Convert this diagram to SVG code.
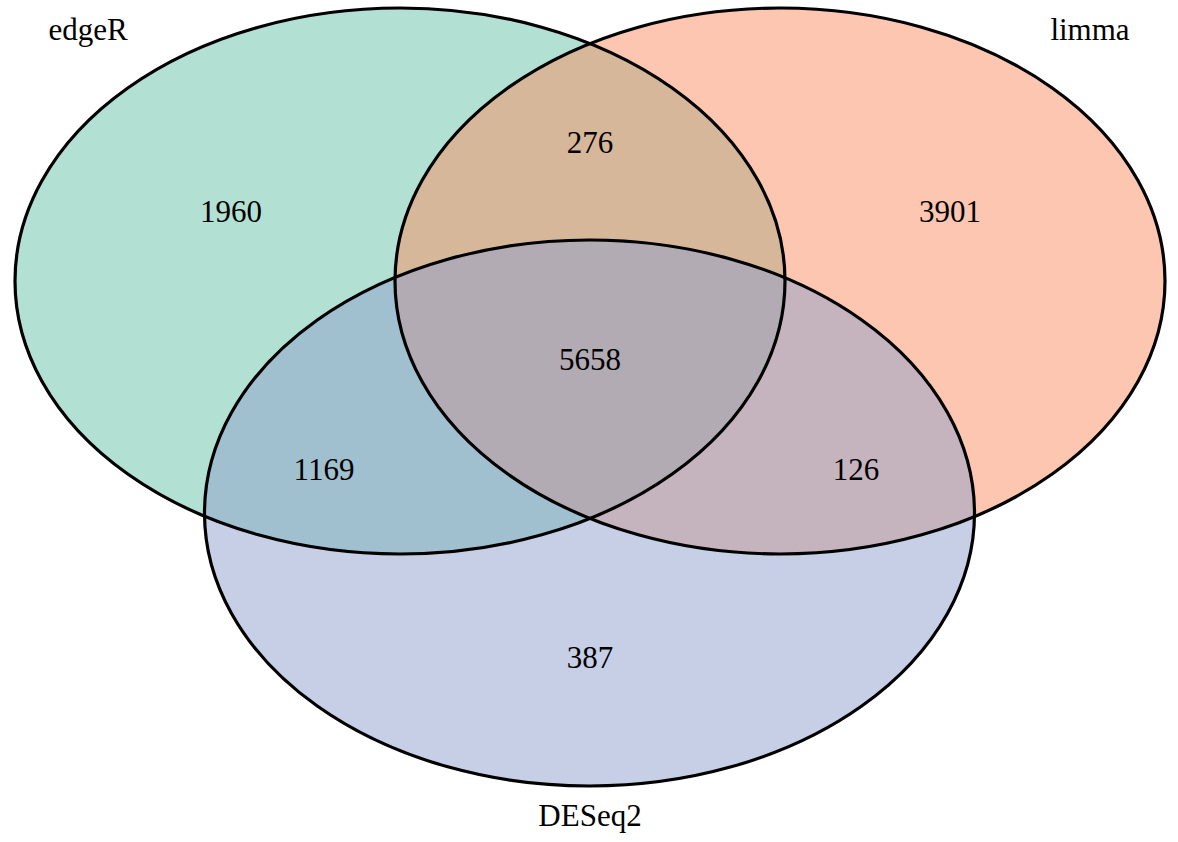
<svg xmlns="http://www.w3.org/2000/svg" xmlns:xlink="http://www.w3.org/1999/xlink" width="1178" height="842" viewBox="0 0 1178 842">
<style>
.fill{fill-opacity:0.5;stroke:none}
.outline{fill:none;stroke:#000;stroke-width:3.2}
text{font-family:"Liberation Serif","Times New Roman",serif;font-size:31px;fill:#000;text-anchor:middle}
</style>
<defs>
<ellipse id="e1" cx="400" cy="281" rx="385" ry="273"/>
<ellipse id="e2" cx="780" cy="281" rx="385" ry="273"/>
<ellipse id="e3" cx="589.5" cy="513" rx="385" ry="273"/>
</defs>
<rect width="1178" height="842" fill="#fff"/>
<g id="set-edgeR">
<use xlink:href="#e1" class="fill" fill="#66c2a5"/>
<text x="88" y="40">edgeR</text>
</g>
<g id="set-limma">
<use xlink:href="#e2" class="fill" fill="#fc8d62"/>
<text x="1090" y="40">limma</text>
</g>
<g id="set-DESeq2">
<use xlink:href="#e3" class="fill" fill="#8da0cb"/>
<text x="590" y="826">DESeq2</text>
</g>
<g id="outlines">
<use xlink:href="#e1" class="outline"/>
<use xlink:href="#e2" class="outline"/>
<use xlink:href="#e3" class="outline"/>
</g>
<g id="counts">
<text x="231" y="222">1960</text>
<text x="590" y="153">276</text>
<text x="950" y="222">3901</text>
<text x="590" y="370">5658</text>
<text x="324" y="480">1169</text>
<text x="856" y="480">126</text>
<text x="590" y="668">387</text>
</g>
</svg>
